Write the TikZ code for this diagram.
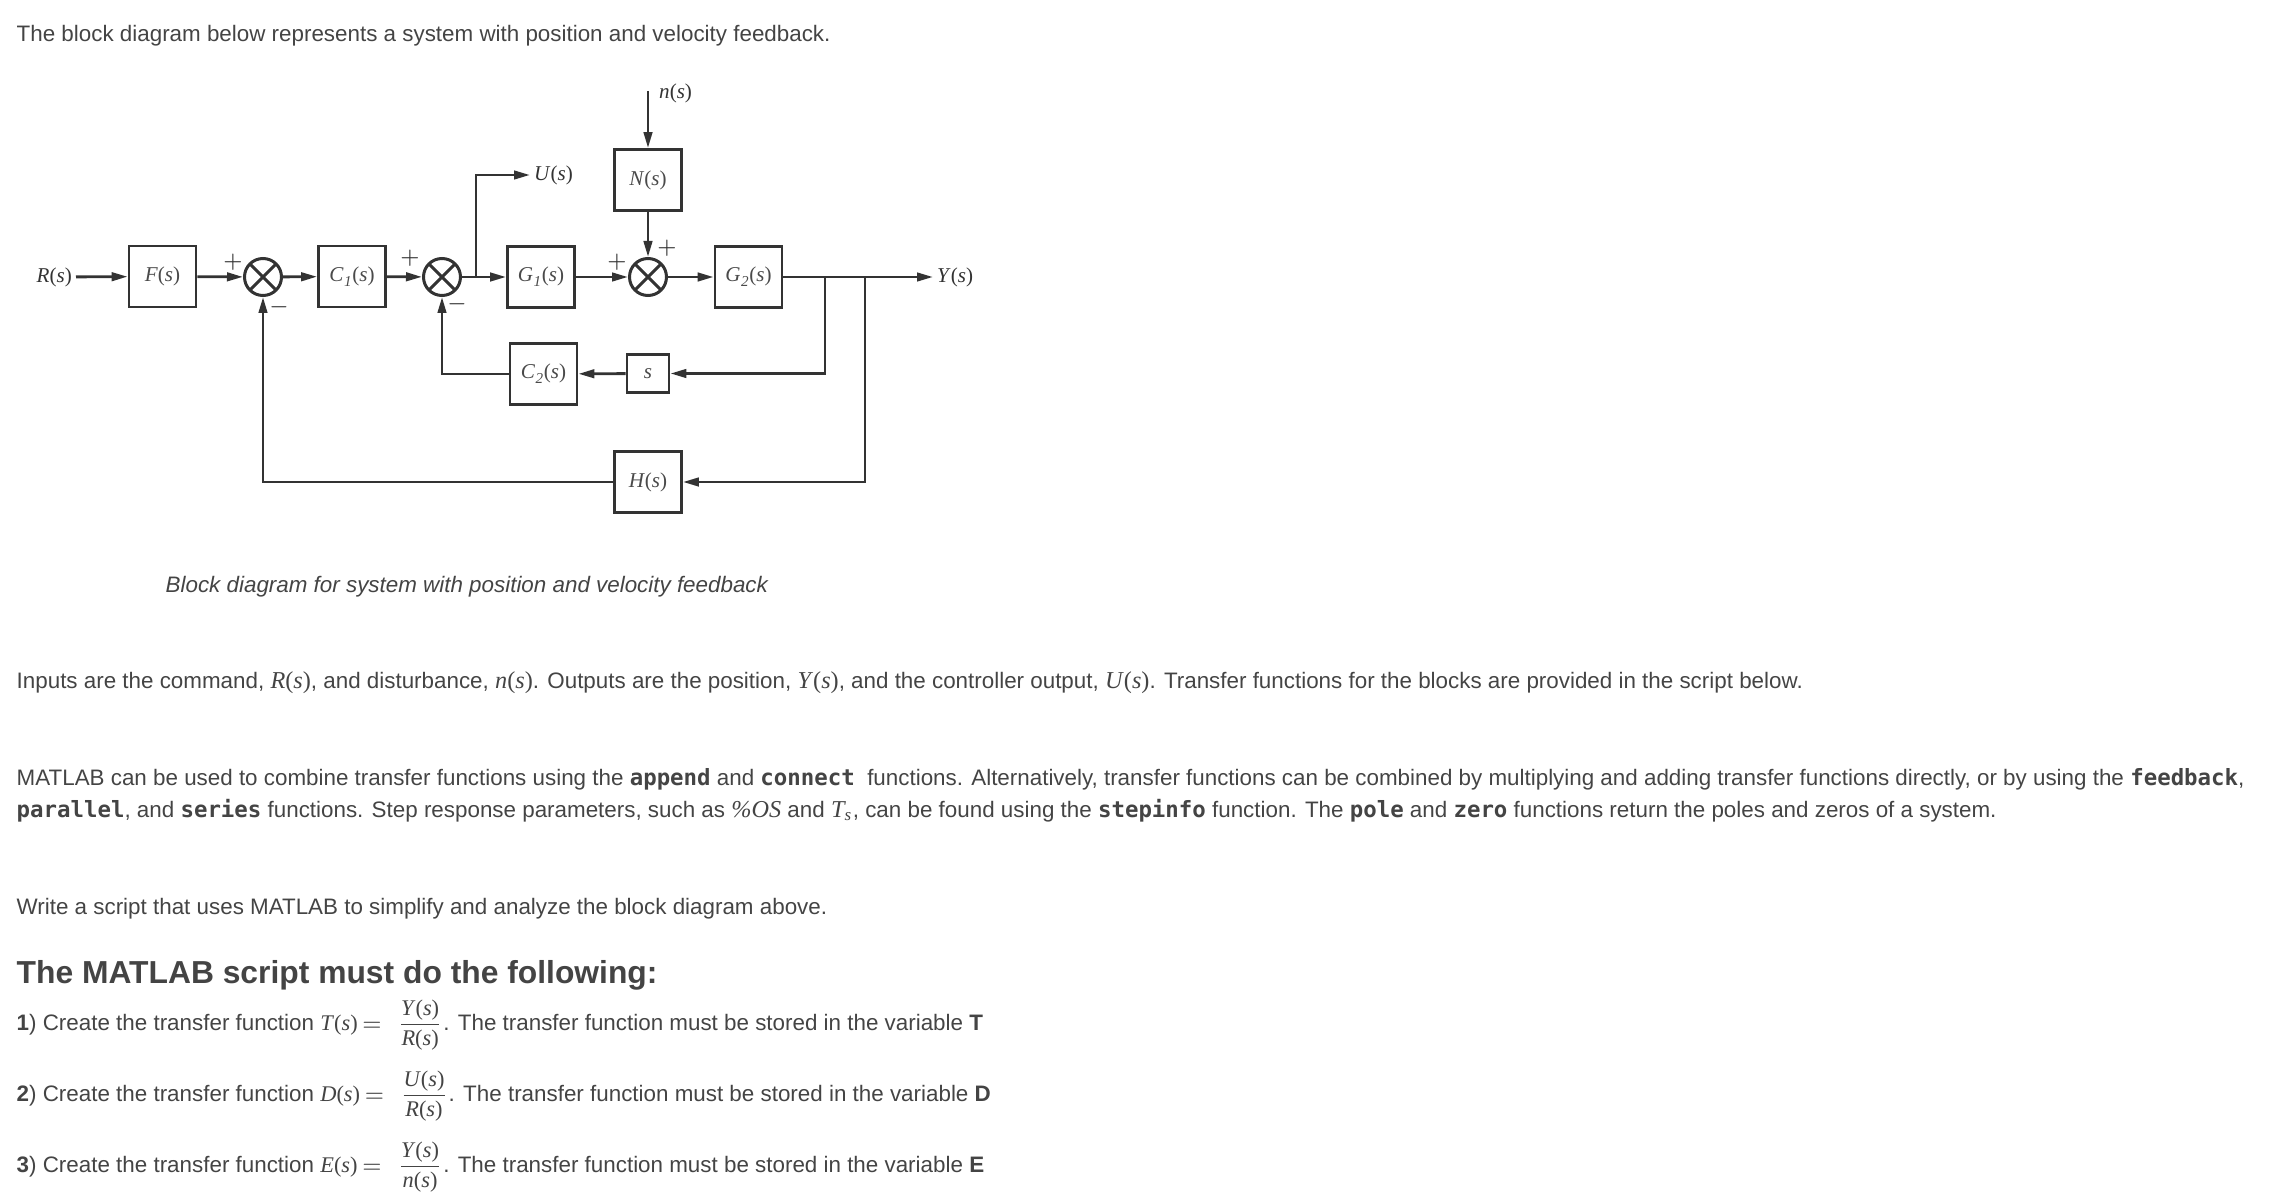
\documentclass[tikz,border=0pt]{standalone}
\usepackage{amsmath}
\usepackage[no-math]{fontspec}
\setmainfont{Liberation Sans}
\newfontfamily\codefont{DejaVu Sans Mono}
\newfontfamily\tms{Liberation Serif}
\usepackage{tikz}
\usepackage{xcolor}
\usetikzlibrary{arrows.meta,positioning,calc}
\definecolor{ink}{HTML}{333333}
\definecolor{txt}{HTML}{444444}
\definecolor{lbl}{HTML}{4A4A4A}
\newcommand{\code}[1]{{\codefont\bfseries #1}}
\newcommand{\tfs}[1]{{\tms\itshape #1\/\upshape(\itshape s\/\upshape)}}
\newcommand{\tfp}[1]{{\fontsize{6.9pt}{7.6pt}\selectfont\tfs{#1}}}
\newcommand{\tfsub}[2]{{\tms\itshape #1\kern0.03em\raisebox{-0.55ex}{\fontsize{4.3pt}{5pt}\selectfont #2}\kern0.03em\upshape(\itshape s\/\upshape)}}
\newcommand{\ratio}[3]{\tfs{#1}\kern0.2em$=\;\tfrac{\mbox{\tfs{#2}}\rule[-0.34em]{0pt}{0.1pt}}{\rule{0pt}{0.84em}\mbox{\tfs{#3}}}$}
\tikzset{
  block/.style={draw=ink,line width=0.28mm,minimum width=6.7mm,minimum height=6.1mm,
                inner sep=0pt,text=lbl,font=\fontsize{6pt}{7pt}\selectfont},
  smallblock/.style={block,minimum width=4.2mm,minimum height=3.8mm},
  summer/.style={circle,draw=ink,line width=0.3mm,minimum size=3.7mm,inner sep=0pt,
                 path picture={\draw[ink,line width=0.3mm]
                   (path picture bounding box.north west) -- (path picture bounding box.south east)
                   (path picture bounding box.north east) -- (path picture bounding box.south west);}},
  sig/.style={inner sep=1pt,text=ink,font=\fontsize{6pt}{7pt}\selectfont},
  pm/.style={inner sep=0pt,text=ink,font=\fontsize{5.6pt}{6pt}\selectfont},
  flow/.style={-{Triangle[length=1.6mm,width=0.85mm]},draw=ink,line width=0.28mm},
  para/.style={anchor=base west,inner sep=0pt,text=txt,font=\fontsize{6.37pt}{7.6pt}\selectfont}
}
\begin{document}
\begin{tikzpicture}[x=0.1mm,y=-0.1mm]
  \path[use as bounding box] (0,0) rectangle (2272,1200);
  \node[para] (intro) at (16,42)
    {The block diagram below represents a system with position and velocity feedback.};

  \node[sig,anchor=east] (rin) at (76,277) {\tfs{R}};
  \node[block] (f) at (162.5,276.5) {\tfs{F}};
  \node[summer] (s1) at (263,277) {};
  \node[block] (c1) at (352,276.5) {\tfsub{C}{1}};
  \node[summer] (s2) at (442,277) {};
  \node[block] (g1) at (541,277) {\tfsub{G}{1}};
  \node[summer] (s3) at (648,277) {};
  \node[block] (nb) at (648,180) {\tfs{N}};
  \node[block] (g2) at (748.5,277) {\tfsub{G}{2}};
  \node[smallblock] (sb) at (648,373.5) {{\tms\itshape s}};
  \node[block] (c2) at (543.5,374) {\tfsub{C}{2}};
  \node[block] (hb) at (648,482) {\tfs{H}};
  \node[sig,anchor=west] (yout) at (933,277) {\tfs{Y}};
  \node[sig,anchor=west] (uout) at (530,175) {\tfs{U}};
  \node[sig,anchor=west] (nin) at (655,93) {\tfs{n}};
  \coordinate (ntop) at (648,91);
  \coordinate (bu) at (476,277);
  \coordinate (bv) at (825,277);
  \coordinate (bp) at (865,277);

  \draw[flow] (rin) -- (f);
  \draw[flow] (f) -- (s1);
  \draw[flow] (s1) -- (c1);
  \draw[flow] (c1) -- (s2);
  \draw[flow] (s2) -- (g1);
  \draw[flow] (bu) |- (uout);
  \draw[flow] (g1) -- (s3);
  \draw[flow] (ntop) -- (nb);
  \draw[flow] (nb) -- (s3);
  \draw[flow] (s3) -- (g2);
  \draw[flow] (g2) -- (yout);
  \draw[flow] (bv) |- (sb);
  \draw[flow] (sb) -- (c2);
  \draw[flow] (c2) -| (s2);
  \draw[flow] (bp) |- (hb);
  \draw[flow] (hb) -| (s1);

  \node[pm] (p1) at (233,262) {$+$};
  \node[pm] (m1) at (279,307) {$-$};
  \node[pm] (p2) at (410,258) {$+$};
  \node[pm] (m2) at (457,304) {$-$};
  \node[pm] (p3) at (617,262) {$+$};
  \node[pm] (p4) at (667,248) {$+$};

  \node[para,font=\fontsize{6.37pt}{7.6pt}\selectfont\itshape] (caption) at (165,592)
    {Block diagram for system with position and velocity feedback};

  \node[para] (inputs) at (16,688)
    {Inputs are the command, \tfp{R}, and disturbance, \tfp{n}. Outputs are the position,
     \tfp{Y}, and the controller output, \tfp{U}. Transfer functions for the blocks are
     provided in the script below.};
  \node[para] (matlab1) at (16,785)
    {MATLAB can be used to combine transfer functions using the \code{append} and
     \code{connect}\ \ functions. Alternatively, transfer functions can be combined by
     multiplying and adding transfer functions directly, or by using the \code{feedback},};
  \node[para] (matlab2) at (16,817)
    {\code{parallel}, and \code{series} functions. Step response parameters, such as
     {\fontsize{6.9pt}{7.6pt}\selectfont\tms\itshape \%OS} and
     {\fontsize{6.9pt}{7.6pt}\selectfont\tms\itshape T\textsubscript{s}}, can be found using the
     \code{stepinfo} function. The \code{pole} and \code{zero} functions return the poles
     and zeros of a system.};
  \node[para] (write) at (16,914)
    {Write a script that uses MATLAB to simplify and analyze the block diagram above.};
  \node[para,font=\fontsize{9.05pt}{11pt}\selectfont\bfseries] (head) at (16,983)
    {The MATLAB script must do the following:};
  \node[para] (item1) at (16,1030)
    {\textbf{1}) Create the transfer function \ratio{T}{Y}{R}.
     The transfer function must be stored in the variable \textbf{T}};
  \node[para] (item2) at (16,1101)
    {\textbf{2}) Create the transfer function \ratio{D}{U}{R}.
     The transfer function must be stored in the variable \textbf{D}};
  \node[para] (item3) at (16,1172)
    {\textbf{3}) Create the transfer function \ratio{E}{Y}{n}.
     The transfer function must be stored in the variable \textbf{E}};
\end{tikzpicture}
\end{document}
